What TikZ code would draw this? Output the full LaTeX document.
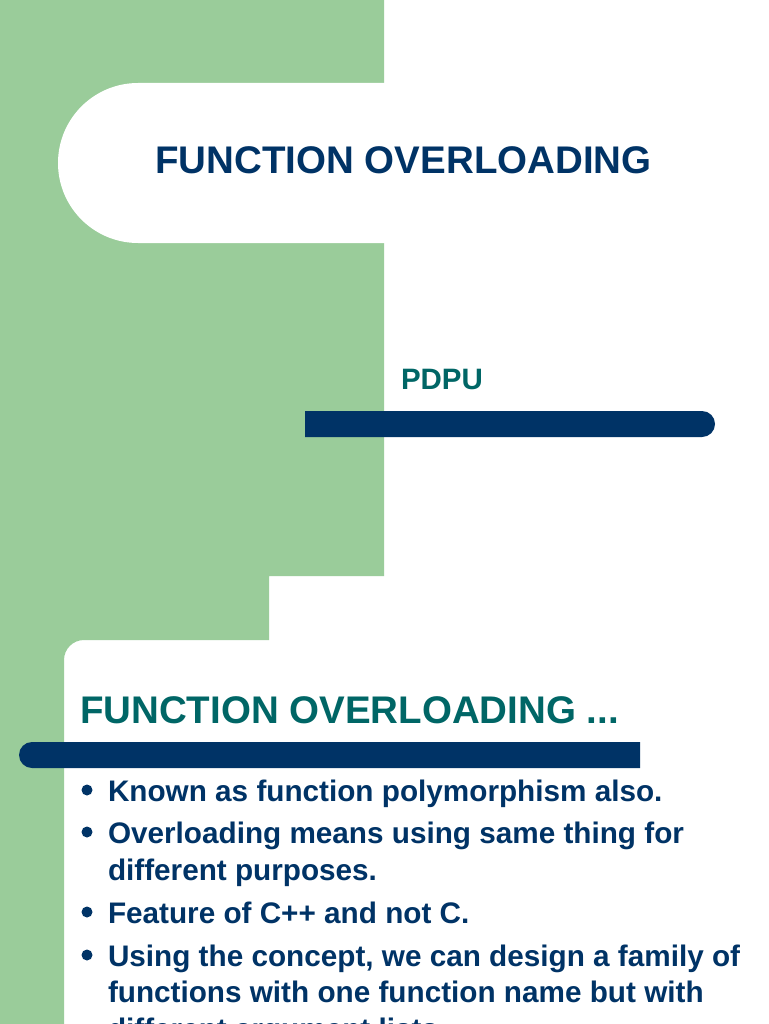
\documentclass[tikz,border=0pt]{standalone}
\usepackage{fontspec}
\setmainfont{Liberation Sans}
\usepackage{tikz}
\usetikzlibrary{positioning}
\usepackage{xcolor}
\definecolor{slidegreen}{HTML}{9ACC9A}
\definecolor{slidenavy}{HTML}{003366}
\definecolor{slideteal}{HTML}{006666}

\begin{document}
\begin{tikzpicture}[x=1pt, y=1pt, inner sep=0pt, outer sep=0pt,
                    heading/.style={font=\fontsize{38.5}{44}\selectfont\bfseries},
                    subhead/.style={font=\fontsize{29.5}{35}\selectfont\bfseries, text=slideteal},
                    itemtext/.style={font=\fontsize{29.7}{35}\selectfont\bfseries, text=slidenavy, anchor=base west},
                    dot/.style={circle, fill=slidenavy, minimum size=11pt}]
                      \path[use as bounding box, clip] (0,0) rectangle (768,-1024);
                      \fill[white] (0,0) rectangle (768,-1024);
                      % green backdrop
                      \fill[slidegreen] (0,0) -- (384,0) -- (384,-576) -- (269,-576) -- (269,-640) -- (84,-640)
                            arc[start angle=90, end angle=180, radius=20] -- (64,-1024) -- (0,-1024) -- cycle;
                      \fill[white] (400,-83) -- (138,-83) arc[start angle=90, end angle=270, radius=80] -- (400,-243) -- cycle;

                      % first slide
                      \node[heading, text=slidenavy, anchor=base] (title) at (403.5,-174) {FUNCTION OVERLOADING};
                      \node[subhead, anchor=base west] (pdpu) at (401,-389) {PDPU};
                      \fill[slidenavy] (305,-411) -- (702,-411) arc[start angle=90, end angle=-90, radius=13] -- (305,-437) -- cycle;

                      % second slide
                      \node[heading, text=slideteal, anchor=base west] (title2) at (80,-723) {FUNCTION OVERLOADING ...};
                      \fill[slidenavy] (640,-742) -- (32,-742) arc[start angle=90, end angle=270, radius=13] -- (640,-768) -- cycle;

                      \node[dot] (d1) at (87,-790) {};
                      \node[itemtext] (l1) at (108,-801) {Known as function polymorphism also.};
                      \node[dot] (d2) at (87,-832) {};
                      \node[itemtext] (l2) at (108,-843) {Overloading means using same thing for};
                      \node[itemtext] (l3) at (108,-880) {different purposes.};
                      \node[dot] (d3) at (87,-912) {};
                      \node[itemtext] (l4) at (108,-923) {Feature of C++ and not C.};
                      \node[dot] (d4) at (87,-955) {};
                      \node[itemtext] (l5) at (108,-966) {Using the concept, we can design a family of};
                      \node[itemtext] (l6) at (108,-1002) {functions with one function name but with};
                      \node[itemtext] (l7) at (108,-1039) {different argument lists.};

                    \end{tikzpicture}
\end{document}
